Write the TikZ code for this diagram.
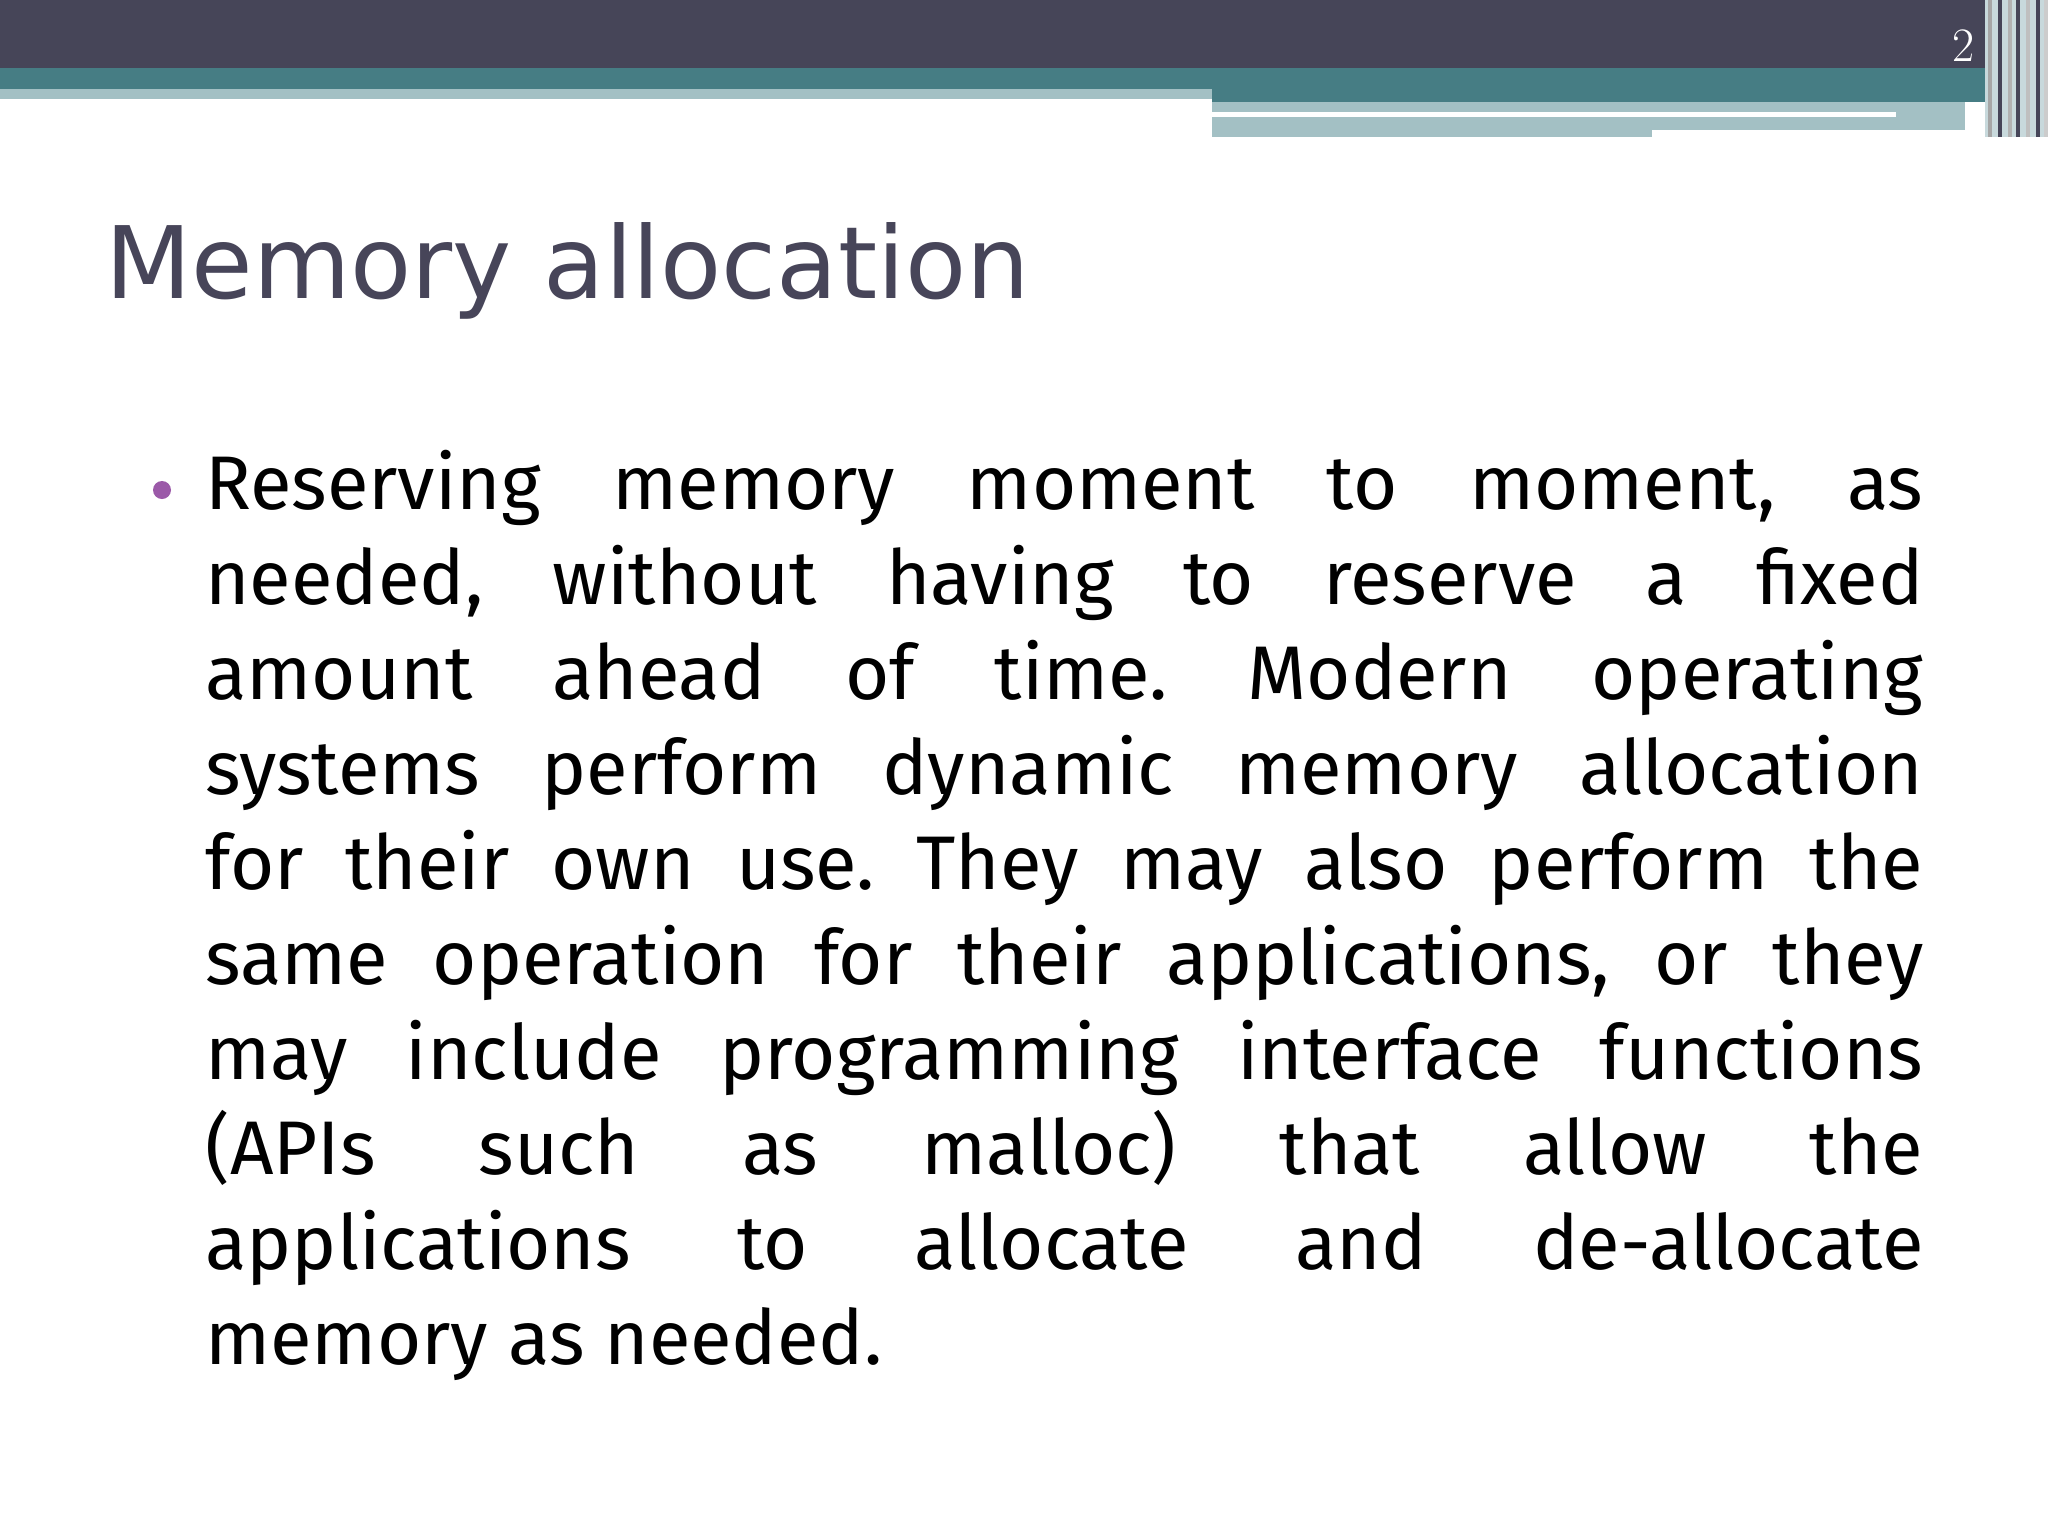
\documentclass[tikz,border=0pt]{standalone}
\usepackage{fontspec}
\setmainfont{DejaVu Sans}
\newfontfamily\bodyfont{Fira Sans}
\newfontfamily\numfont{Latin Modern Roman}
\definecolor{dark}{HTML}{464558}
\definecolor{teal}{HTML}{467D84}
\definecolor{light}{HTML}{A3C0C4}
\definecolor{titlec}{HTML}{474559}
\definecolor{bul}{HTML}{9B59A8}
\begin{document}
\begin{tikzpicture}[x=0.5pt,y=-0.5pt]
\useasboundingbox (0,0) rectangle (2048,1536);
\fill[white] (0,0) rectangle (2048,1536);
\fill[dark] (0,0) rectangle (2048,68);
\fill[teal] (0,68) rectangle (2048,89);
\fill[teal] (1212,89) rectangle (2048,102);
\fill[light] (0,89) rectangle (1212,99);
\fill[light] (1212,102) rectangle (1965,137);
\fill[white] (1212,112) rectangle (1896,117);
\fill[white] (1652,130) rectangle (1965,137);
\fill[light!60] (1985,0) rectangle (2048,137);
\foreach \x/\c in {1988/gray!70,1998/dark,2008/gray!60,2016/dark,2026/gray!50,2036/dark,2044/gray!40}
  \fill[\c] (\x,0) rectangle ++(4,137);
\node[anchor=east,text=white,font=\numfont\fontsize{24}{26}\selectfont] (num) at (1982,46) {2};
\node[anchor=base west,inner sep=0,text=titlec,font=\fontsize{50}{54}\selectfont] (title) at (105,298) {Memory allocation};
\node[circle,fill=bul,minimum size=9pt,inner sep=0] (bullet) at (162,490) {};
\node[anchor=north west,inner sep=0,text=black] (body) at (205,450) {\parbox{859pt}{\bodyfont\fontsize{38}{47.5}\selectfont\frenchspacing
Reserving memory moment to moment, as\linebreak
needed, without having to reserve a fixed\linebreak
amount ahead of time. Modern operating\linebreak
systems perform dynamic memory allocation\linebreak
for their own use. They may also perform the\linebreak
same operation for their applications, or they\linebreak
may include programming interface functions\linebreak
(APIs such as malloc) that allow the\linebreak
applications to allocate and de-allocate\linebreak
memory as needed.}};
\end{tikzpicture}
\end{document}
